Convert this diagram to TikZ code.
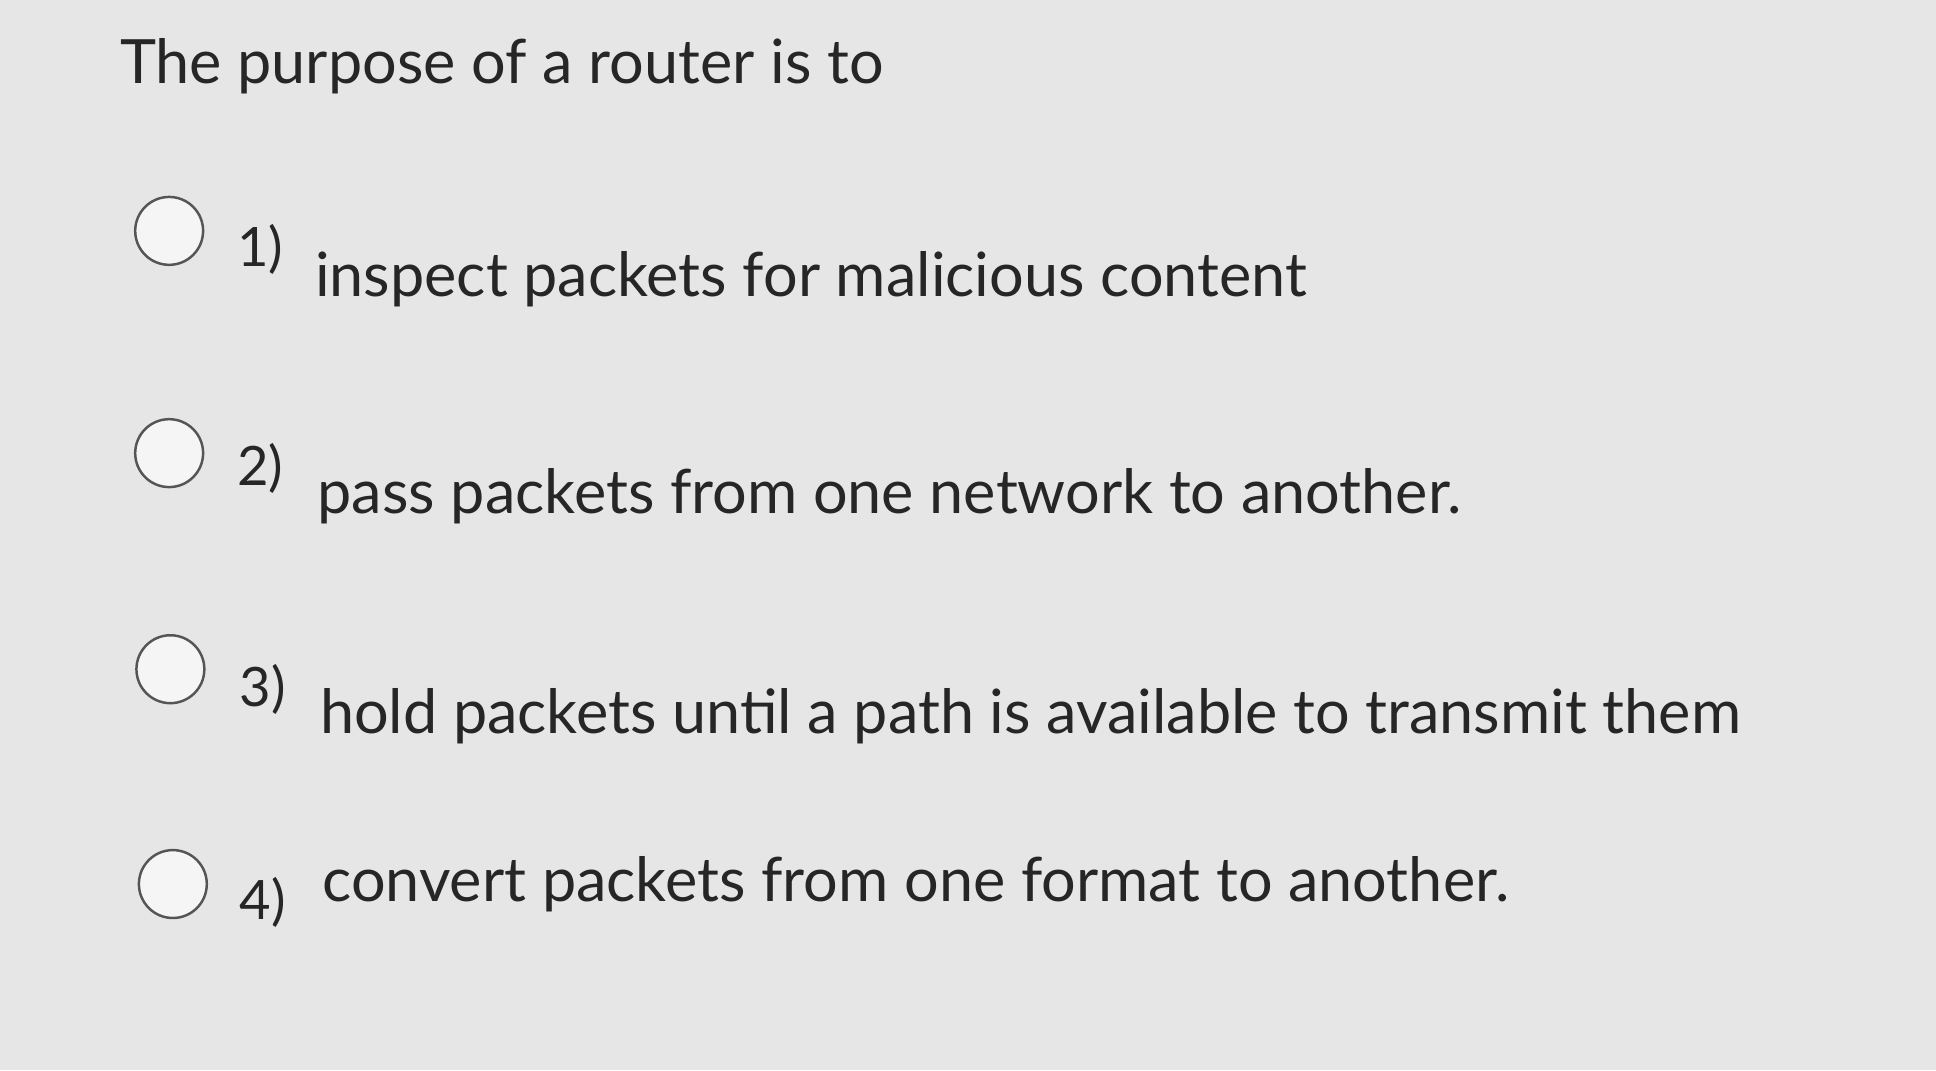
\documentclass[tikz,border=0pt]{standalone}
\usepackage{fontspec}
\setmainfont{Lato}
\definecolor{bg}{HTML}{E6E6E6}
\definecolor{ink}{HTML}{262626}
\definecolor{ring}{HTML}{555555}
\begin{document}
\begin{tikzpicture}[x=1pt,y=-1pt,
  txt/.style={anchor=base west,inner sep=0pt,text=ink,font=\fontsize{49.5}{56}\selectfont},
  num/.style={anchor=base west,inner sep=0pt,text=ink,font=\fontsize{44}{50}\selectfont},
  radio/.style={draw=ring,line width=2pt,fill=white!60!bg,circle,minimum size=55pt,inner sep=0pt}]
\useasboundingbox[fill=bg] (0,0) rectangle (1568,867);
\node[txt] (title) at (97,68) {The purpose of a router is to};
\node[radio] (r1) at (137,187) {};
\node[num] (n1) at (192,216) {1)};
\node[txt] (t1) at (255,240) {inspect packets for malicious content};
\node[radio] (r2) at (137,367) {};
\node[num] (n2) at (192,393) {2)};
\node[txt] (t2) at (257,416) {pass packets from one network to another.};
\node[radio] (r3) at (138,542) {};
\node[num] (n3) at (194,572) {3)};
\node[txt] (t3) at (259,594) {hold packets until a path is available to transmit them};
\node[radio] (r4) at (140,716) {};
\node[num] (n4) at (194,745) {4)};
\node[txt] (t4) at (261,730) {convert packets from one format to another.};
\end{tikzpicture}
\end{document}
